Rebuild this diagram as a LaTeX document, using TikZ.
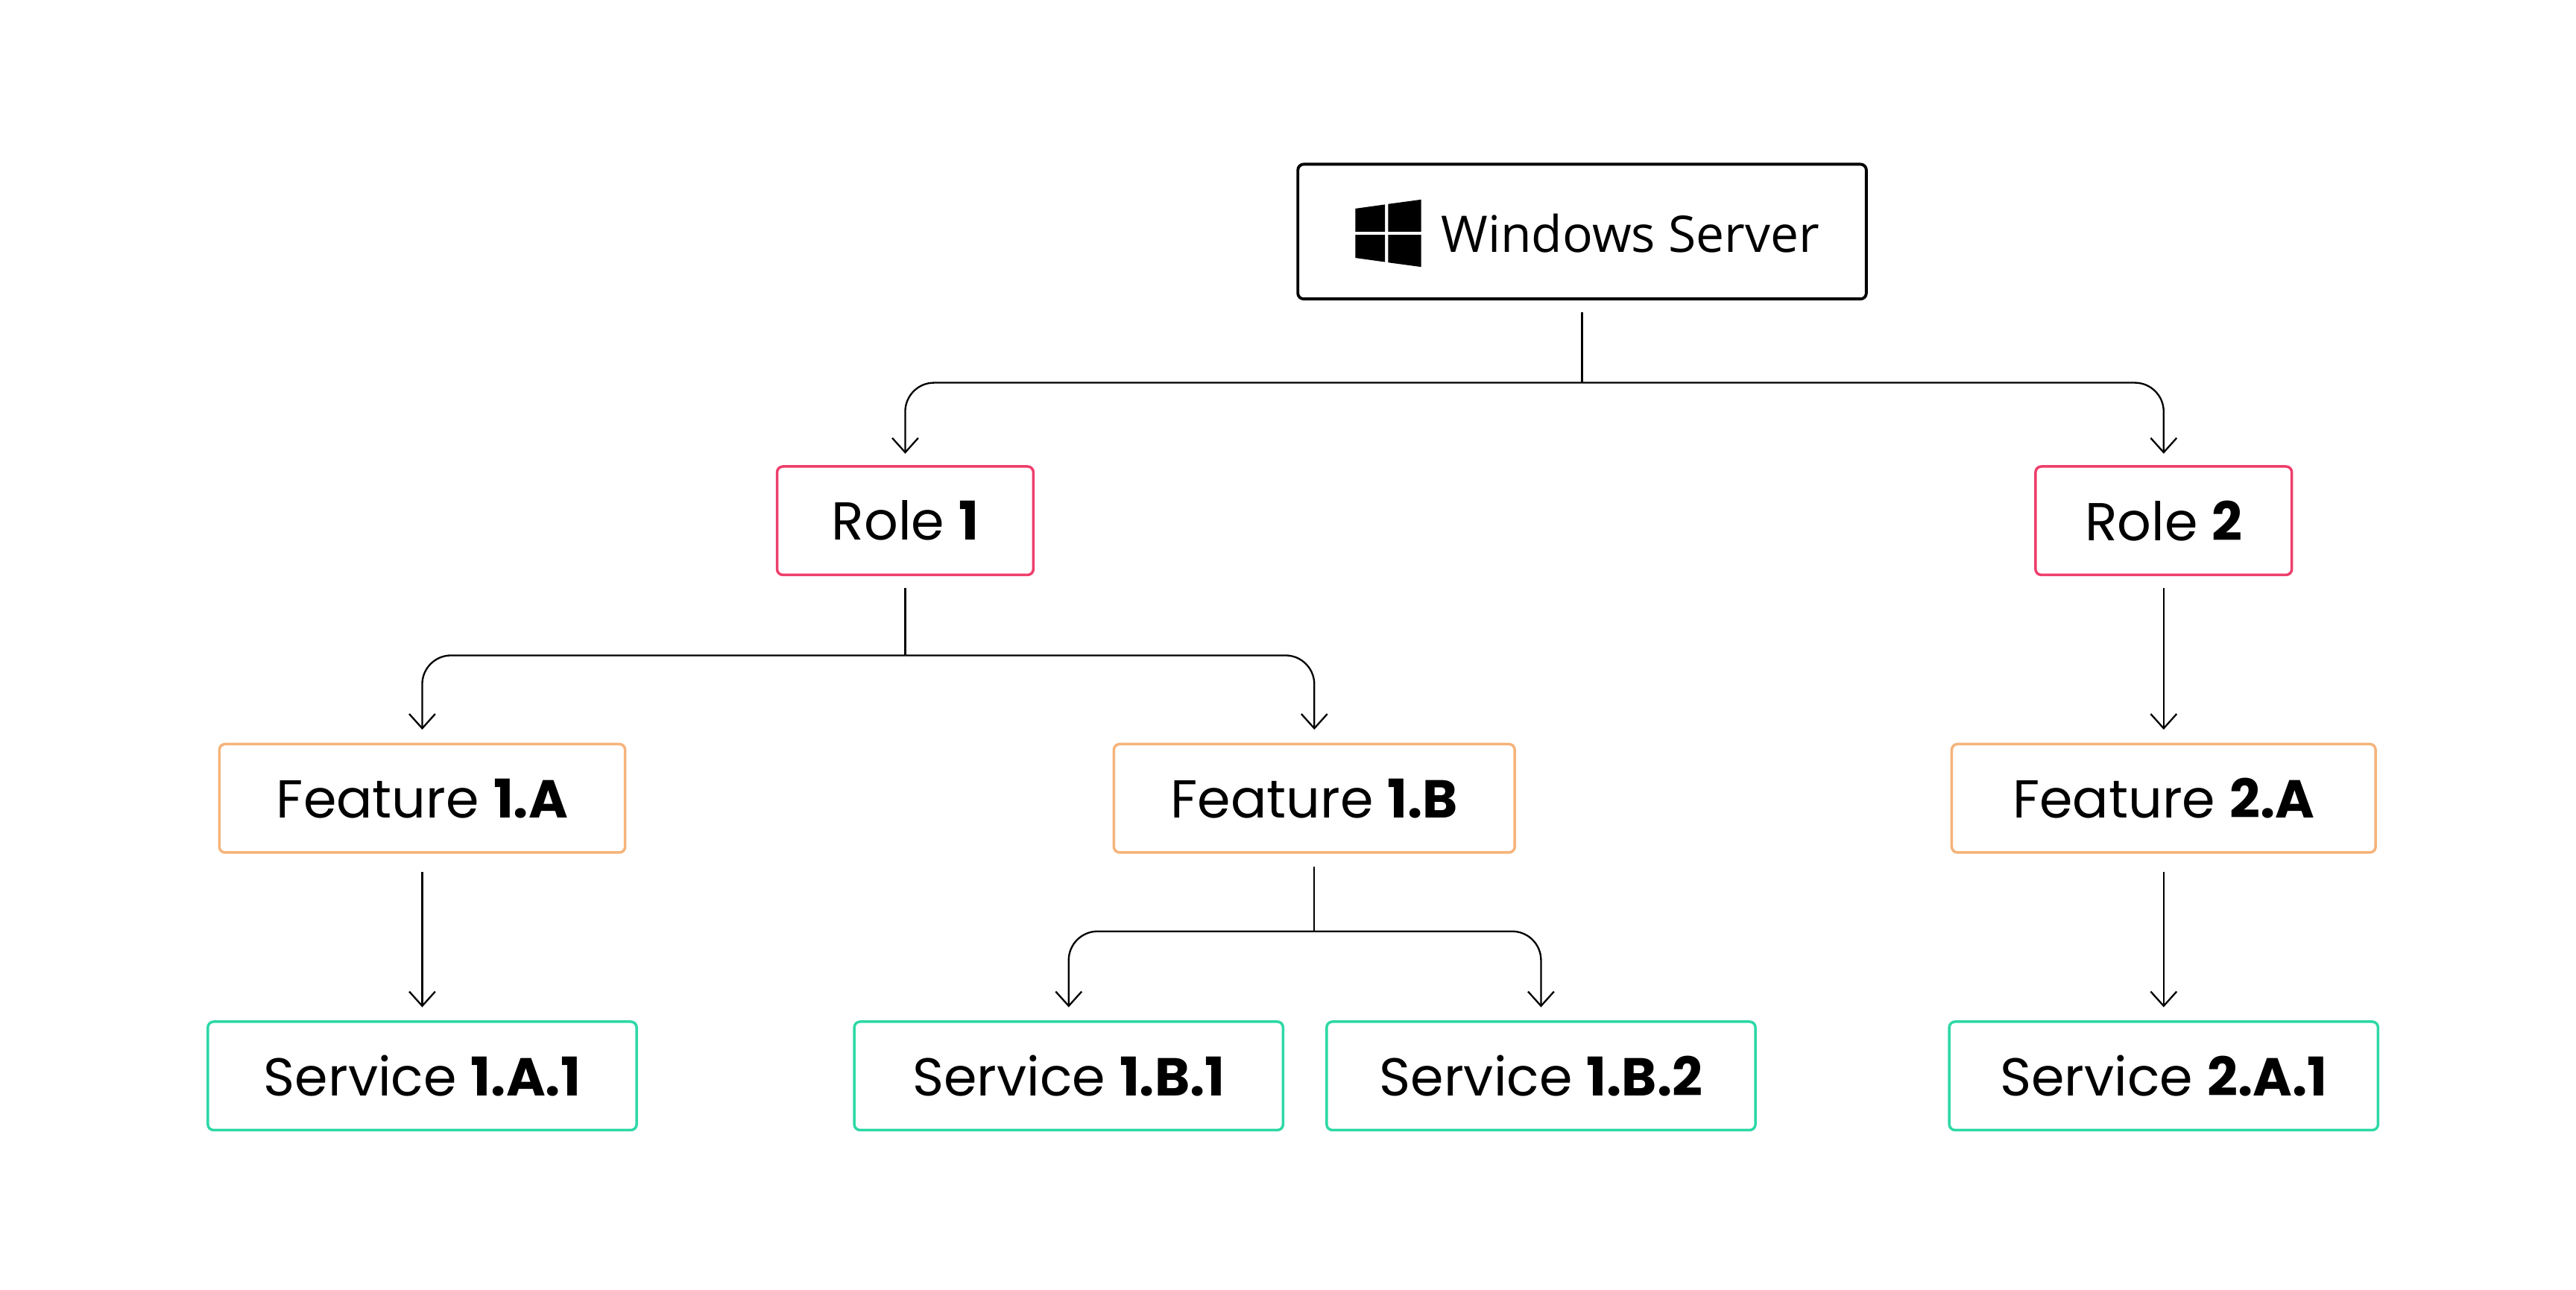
\documentclass[tikz,border=0pt]{standalone}
\usepackage{fontspec}
\setmainfont{Poppins}
\newfontfamily\winfont{Open Sans}
\usetikzlibrary{arrows.meta}
\definecolor{rolec}{HTML}{EE3E6C}
\definecolor{featc}{HTML}{F6B37A}
\definecolor{servc}{HTML}{2DD8A6}
\begin{document}
\begin{tikzpicture}[x=0.02cm,y=-0.02cm,
  box/.style={draw,rounded corners=2pt,line width=0.9pt,inner sep=0pt,font=\fontsize{18.5}{20}\selectfont},
  role/.style={box,draw=rolec,minimum width=156*0.02cm,minimum height=66*0.02cm},
  feat/.style={box,draw=featc,minimum height=66*0.02cm},
  serv/.style={box,draw=servc,minimum width=261*0.02cm,minimum height=66*0.02cm},
  con/.style={line width=0.6pt,rounded corners=10pt},
  arr/.style={con,-{Straight Barb[length=5pt,width=9pt]}}]
\useasboundingbox (0,0) rectangle (1568,785);
\node[draw,rounded corners=2pt,line width=1pt,minimum width=346*0.02cm,minimum height=82*0.02cm] (ws) at (963,141) {};
\node[font=\winfont\fontsize{17.5}{20}\selectfont,anchor=west] (wst) at (871,142) {Windows Server};
\fill (825,127) -- (843,124.5) -- (843,141) -- (825,141) -- cycle;
\fill (845,124.2) -- (865,121.5) -- (865,141) -- (845,141) -- cycle;
\fill (825,143) -- (843,143) -- (843,159.5) -- (825,157) -- cycle;
\fill (845,143) -- (865,143) -- (865,162.5) -- (845,159.8) -- cycle;
\node[role] (r1) at (551,317) {Role \textbf{1}};
\node[role] (r2) at (1317,317) {Role \textbf{2}};
\node[feat,minimum width=247*0.02cm] (f1a) at (257,486) {Feature \textbf{1.A}};
\node[feat,minimum width=244*0.02cm] (f1b) at (800,486) {Feature \textbf{1.B}};
\node[feat,minimum width=258*0.02cm] (f2a) at (1317,486) {Feature \textbf{2.A}};
\node[serv] (s1a1) at (257,655) {Service \textbf{1.A.1}};
\node[serv] (s1b1) at (650.5,655) {Service \textbf{1.B.1}};
\node[serv] (s1b2) at (938,655) {Service \textbf{1.B.2}};
\node[serv] (s2a1) at (1317,655) {Service \textbf{2.A.1}};
\draw[con] ([yshift=-7*0.02cm]ws.south) -- (963,233);
\draw[arr] (963,233) -| ([yshift=7*0.02cm]r1.north);
\draw[arr] (963,233) -| ([yshift=7*0.02cm]r2.north);
\draw[con] ([yshift=-7*0.02cm]r1.south) -- (551,399);
\draw[arr] (551,399) -| ([yshift=8*0.02cm]f1a.north);
\draw[arr] (551,399) -| ([yshift=8*0.02cm]f1b.north);
\draw[arr] ([yshift=-7*0.02cm]r2.south) -- ([yshift=8*0.02cm]f2a.north);
\draw[arr] ([yshift=-11*0.02cm]f1a.south) -- ([yshift=8*0.02cm]s1a1.north);
\draw[con] ([yshift=-8*0.02cm]f1b.south) -- (800,567);
\draw[arr] (800,567) -| ([yshift=8*0.02cm]s1b1.north);
\draw[arr] (800,567) -| ([yshift=8*0.02cm]s1b2.north);
\draw[arr] ([yshift=-11*0.02cm]f2a.south) -- ([yshift=8*0.02cm]s2a1.north);
\end{tikzpicture}
\end{document}
